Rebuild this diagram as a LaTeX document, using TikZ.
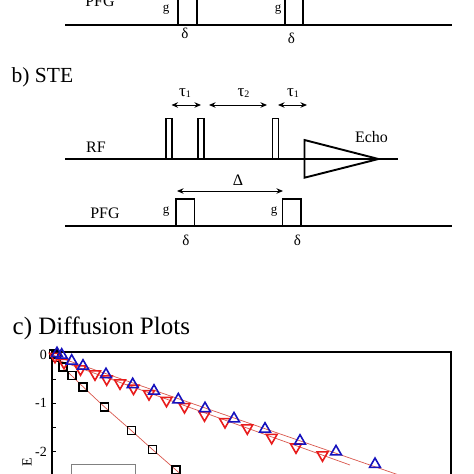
\documentclass[tikz,border=0pt]{standalone}
\usepackage{fontspec}
\setmainfont{Liberation Serif}
\usetikzlibrary{arrows.meta,shapes.geometric}
\definecolor{fitred}{RGB}{218,88,78}
\definecolor{mkblue}{RGB}{22,18,190}
\definecolor{mkred}{RGB}{232,28,28}
\newcommand\fsz[1]{\fontsize{#1}{#1}\selectfont}
\begin{document}
\begin{tikzpicture}[x=1pt,y=-1pt,
  lbl/.style={inner sep=0pt,font=\fsz{16}},
  small/.style={inner sep=0pt,font=\fsz{13}},
  dsym/.style={inner sep=0pt,font=\fsz{15}},
  taulbl/.style={inner sep=0pt,font=\fsz{17}},
  base/.style={line width=1.1pt},
  pulse/.style={line width=1.5pt},
  echotri/.style={line width=1.9pt,line join=miter},
  dim/.style={line width=0.9pt,{Stealth[length=6.5pt,width=5.5pt]}-{Stealth[length=6.5pt,width=5.5pt]}},
  fit/.style={draw=fitred,line width=0.7pt},
  up/.style={draw=mkblue,line width=1.6pt,regular polygon,regular polygon sides=3,minimum size=12.5pt,inner sep=0pt},
  dn/.style={draw=mkred,line width=1.6pt,regular polygon,regular polygon sides=3,shape border rotate=180,minimum size=12.5pt,inner sep=0pt},
  sq/.style={draw=black,line width=1.6pt,rectangle,minimum size=8pt,inner sep=0pt},
  tick/.style={line width=1pt},
  ticklbl/.style={inner sep=0pt,anchor=east,font=\fsz{14}}]
\clip (0,0) rectangle (474,474);
\fill[white] (0,0) rectangle (474,474);

% ---------- top (a) remnants ----------
\node[lbl] (pfgA) at (100,1.5) {PFG};
\coordinate (lineAs) at (65,25);
\coordinate (lineAe) at (452,25);
\draw[base] (lineAs) -- (lineAe);
\draw[pulse] (178,25) rectangle (197,-10);
\draw[pulse] (285,25) rectangle (303,-10);
\node[small] (gA1) at (166,9.5) {g};
\node[small] (gA2) at (278,9.5) {g};
\node[dsym] (dA1) at (185,33.5) {δ};
\node[dsym] (dA2) at (291.5,38) {δ};

% ---------- b) STE ----------
\node[anchor=base west,inner sep=0pt,font=\fsz{21.5}] (titleB) at (11.5,82.5) {b) STE};
\node[taulbl] (tau1a) at (185,93.5) {τ\raisebox{-1pt}{\fsz{10}1}};
\node[taulbl] (tau2) at (243.5,93.5) {τ\raisebox{-1pt}{\fsz{10}2}};
\node[taulbl] (tau1b) at (293,93.5) {τ\raisebox{-1pt}{\fsz{10}1}};
\coordinate (t1aL) at (171.5,105); \coordinate (t1aR) at (201,105);
\coordinate (t2L) at (209,105); \coordinate (t2R) at (267,105);
\coordinate (t1bL) at (278,105); \coordinate (t1bR) at (307,105);
\draw[dim] (t1aL) -- (t1aR);
\draw[dim] (t2L) -- (t2R);
\draw[dim] (t1bL) -- (t1bR);

\node[lbl] (rf) at (96,147) {RF};
\coordinate (rfS) at (65,159);
\coordinate (rfE) at (398,159);
\draw[base] (rfS) -- (rfE);
\draw[pulse] (166,159) rectangle (172,118.5);
\draw[pulse] (198,159) rectangle (204,118.5);
\draw[pulse] (272.5,159) rectangle (278.5,118.5);
\draw[echotri] (304.5,140) -- (378.5,159) -- (304.5,177.7) -- cycle;
\node[lbl] (echo) at (371.5,137.5) {Echo};

\node[lbl] (Delta) at (238,180.5) {Δ};
\coordinate (DL) at (177,191);
\coordinate (DR) at (283,191);
\draw[dim] (DL) -- (DR);

\node[lbl] (pfgB) at (105,213) {PFG};
\coordinate (pfgS) at (65,226);
\coordinate (pfgE) at (452,226);
\draw[base] (pfgS) -- (pfgE);
\draw[pulse] (176,226) rectangle (194.5,199);
\draw[pulse] (282.5,226) rectangle (301,199);
\node[small] (gB1) at (166,211.5) {g};
\node[small] (gB2) at (274,211.5) {g};
\node[dsym] (dB1) at (186,240) {δ};
\node[dsym] (dB2) at (297.5,240) {δ};

% ---------- c) Diffusion Plots ----------
\node[anchor=base west,inner sep=0pt,font=\fsz{25}] (titleC) at (12.5,334) {c) Diffusion Plots};

% fits
\draw[fit] plot[smooth] coordinates {(52,353.5) (57,359) (63,367) (72,376) (83,386.7) (104.3,406.7) (131.3,430.5) (152.3,449.3) (176,470) (186,479)};
\draw[fit] (52,355) -- (400,475.4);
\draw[fit] (52,358) -- (350,465);

% frame
\draw[line width=1.4pt] (52,480) -- (52,352) -- (451,352) -- (451,480);
\foreach \yy in {379,403,427,451}{\draw[tick] (52,\yy) -- (56,\yy);}
\node[ticklbl] (y0) at (47,355) {0};
\node[ticklbl] (y1) at (47,403.3) {-1};
\node[ticklbl] (y2) at (47,451.5) {-2};
\node[inner sep=0pt,rotate=90,font=\fsz{14}] (ylab) at (27,462.5) {E};
\draw[gray,line width=0.8pt] (71.7,480) -- (71.7,464) -- (135,464) -- (135,480);

% markers
\foreach \p [count=\i] in {(53.5,354),(56.5,357.5),(63,367),(71.7,375.5),(83,386.7),(104.3,406.7),(131.3,430.5),(152.3,449.3),(176,470)}
  {\node[sq] (s\i) at \p {};}
\foreach \p [count=\i] in {(55,356.5),(64,362.5),(80.5,369),(95,374),(106.7,379),(120,383),(133.5,388.3),(149,393.8),(166.5,400.5),(184.5,406.7),(204.5,415),(225,421.7),(247.3,428),(271.7,437.5),(296,447),(322.5,455)}
  {\node[dn] (r\i) at \p {};}
\foreach \p [count=\i] in {(57,353.5),(61.7,355),(71.7,361),(83,366),(106,374.5),(132.7,384.5),(154,391),(178.3,399.7),(205,408.5),(234,418.7),(265,429),(300,441),(336,451.7),(375,464.3)}
  {\node[up] (b\i) at \p {};}
\end{tikzpicture}
\end{document}
